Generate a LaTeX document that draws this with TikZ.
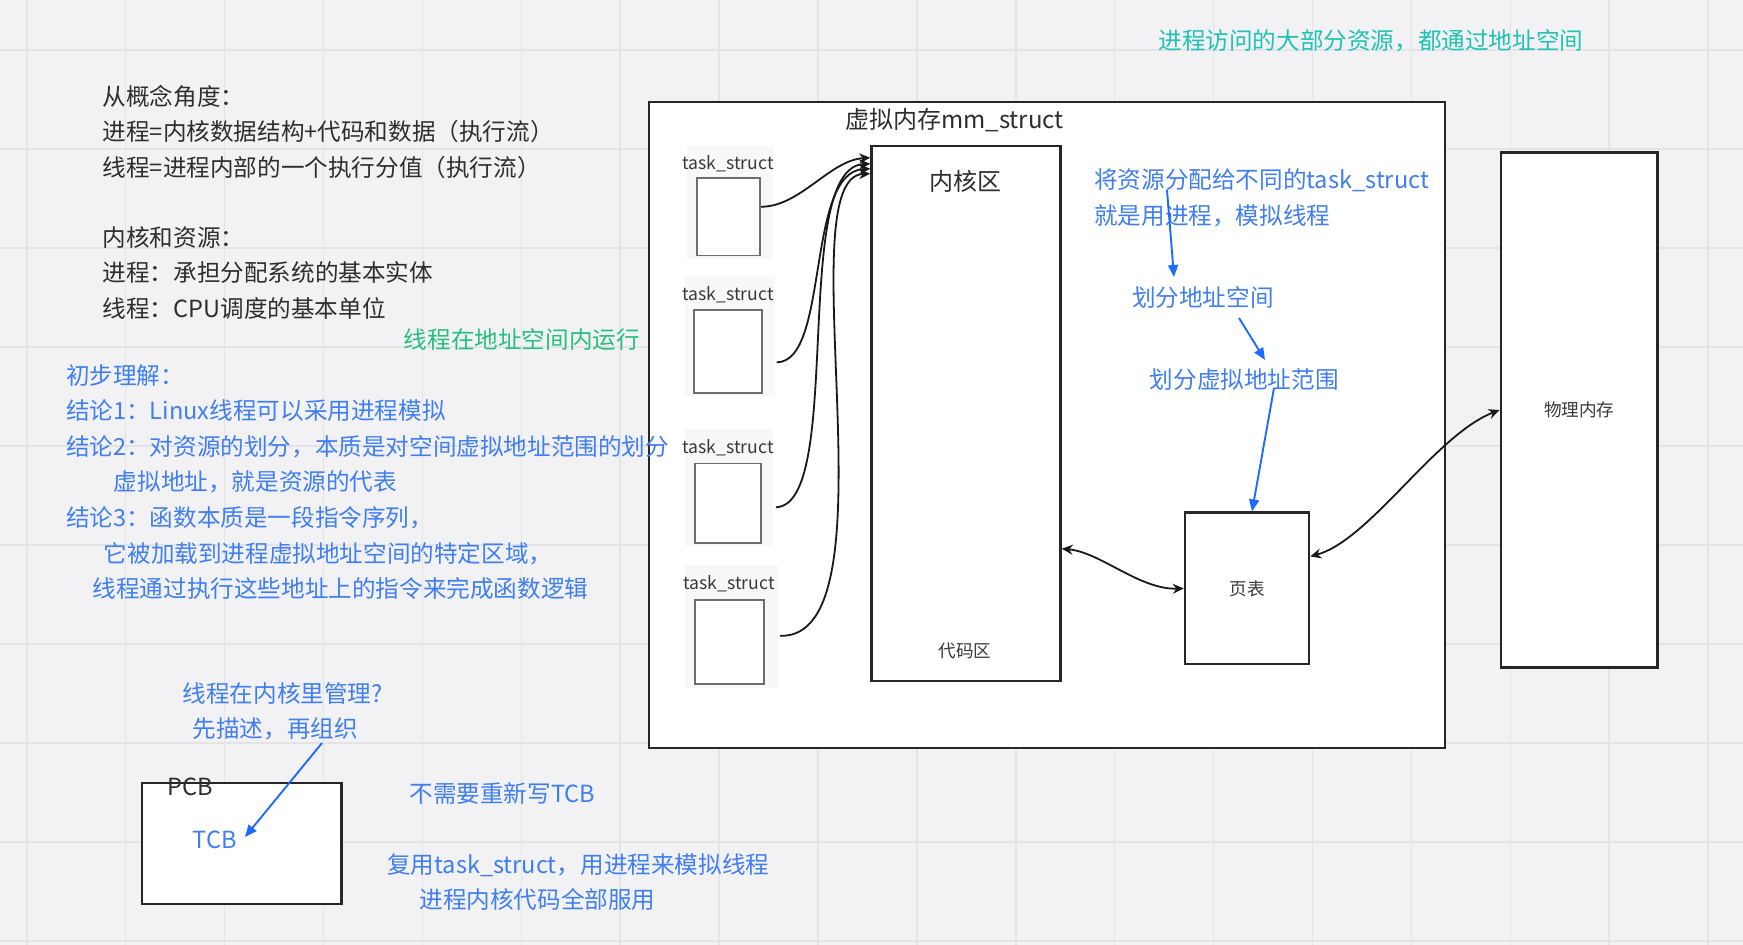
\documentclass[tikz,border=0pt]{standalone}
\usepackage{fontspec}
\setmainfont{Noto Sans CJK SC}
\usetikzlibrary{arrows.meta,calc}
\definecolor{bg}{HTML}{F2F2F4}
\definecolor{gridc}{HTML}{E4E4E7}
\definecolor{txtblack}{HTML}{2E2E2E}
\definecolor{txtblue}{HTML}{3F7EF4}
\definecolor{arrblue}{HTML}{1D6BFF}
\definecolor{txtgreen}{HTML}{24C07E}
\definecolor{txtteal}{HTML}{1FC3B3}
\definecolor{boxline}{HTML}{262626}
\definecolor{taskline}{HTML}{6E6E6E}
\definecolor{labgrey}{HTML}{3A3A3A}
\definecolor{panelc}{HTML}{F8F8F8}
\begin{document}
\begin{tikzpicture}[x=0.5pt,y=-0.5pt,
  txt/.style={font=\fontsize{11.8}{14}\selectfont, inner sep=0pt, anchor=west, text height=0.98em, text depth=0.02em},
  blk/.style={txt, text=txtblack},
  blu/.style={txt, text=txtblue},
  grn/.style={txt, text=txtgreen},
  teal/.style={txt, text=txtteal},
  small/.style={font=\fontsize{8.8}{10}\selectfont, text=labgrey, inner sep=0pt, text height=0.95em, text depth=0.05em},
  bigbox/.style={draw=boxline, line width=1.25pt, fill=white, inner sep=0pt},
  taskbox/.style={draw=taskline, line width=0.9pt, fill=white, inner sep=0pt},
  conn/.style={draw=black!90, line width=0.9pt, -{Stealth[length=5.5pt,width=5pt]}},
  conntwo/.style={draw=black!90, line width=0.9pt, {Stealth[length=5.5pt,width=5pt]}-{Stealth[length=5.5pt,width=5pt]}},
  bluearr/.style={draw=arrblue, line width=0.95pt, -{Triangle[length=6pt,width=5pt]}}
]
\fill[bg] (0,0) rectangle (1743,945);
\useasboundingbox (0,0) rectangle (1743,945);
\foreach \i in {0,...,17} \draw[gridc, line width=0.75pt] ({26.8+98.9*\i},0) -- ({26.8+98.9*\i},945);
\foreach \j in {0,...,9} \draw[gridc, line width=0.75pt] (0,{50+99*\j}) -- (1743,{50+99*\j});

% outer box and big boxes
\node[bigbox, minimum width=398pt, minimum height=323pt] (outer) at (1047,425) {};
\fill[panelc] (686.7,145.6) rectangle (772.7,258.6);
\fill[panelc] (685,275.8) rectangle (775,396.5);
\fill[panelc] (685,429) rectangle (773,546);
\fill[panelc] (685,565) rectangle (778,688);
\node[bigbox, minimum width=94.5pt, minimum height=267.5pt] (kernel) at (966,413.5) {};
\node[bigbox, minimum width=62pt, minimum height=75.7pt, font=\fontsize{8.8}{10}\selectfont, text=labgrey] (pt) at (1247,588.4) {页表};
\node[bigbox, minimum width=78.4pt, minimum height=257.3pt, font=\fontsize{8.8}{10}\selectfont, text=labgrey] (phys) at (1579.2,410) {物理内存};
\node[bigbox, minimum width=99.75pt, minimum height=60.5pt] (pcb) at (241.75,843.5) {};

% task_struct boxes
\node[taskbox, minimum width=31.65pt, minimum height=38.75pt] (t1) at (728.35,216.75) {};
\node[taskbox, minimum width=33.85pt, minimum height=41.35pt] (t2) at (727.85,351.35) {};
\node[taskbox, minimum width=33pt, minimum height=39.65pt] (t3) at (728,503.25) {};
\node[taskbox, minimum width=34.5pt, minimum height=42.2pt] (t4) at (729.5,641.8) {};
\node[small] (l1) at (728,161) {task\_struct};
\node[small] (l2) at (728,292) {task\_struct};
\node[small] (l3) at (728,445) {task\_struct};
\node[small] (l4) at (729,580) {task\_struct};

\node[font=\fontsize{12}{14}\selectfont, text=txtblack, inner sep=0pt, text height=0.98em, text depth=0.02em] (kq) at (965,181) {内核区};
\node[small] (dm) at (965,648) {代码区};
\node[txt, text=txtblack, font=\fontsize{12}{14}\selectfont] (mmt) at (844.8,119) {虚拟内存mm\_struct};

% connectors task_struct -> kernel
\draw[conn] ($(t1.east)+(0,-10)$) .. controls (800,207) and (830,160) .. ($(kernel.north west)+(0,13)$);
\draw[conn] ($(t2.east)+(14,11)$) .. controls (830,362) and (805,172) .. ($(kernel.north west)+(0,24)$);
\draw[conn] ($(t3.east)+(14,4)$) .. controls (845,505) and (790,168) .. ($(kernel.north west)+(0,19)$);
\draw[conn] ($(t4.east)+(15,-6)$) .. controls (900,640) and (785,176) .. ($(kernel.north west)+(0,29)$);

\draw[conntwo] ($(kernel.north east)+(0,404)$) .. controls (1100,552) and (1140,590) .. (pt.west);
\draw[conntwo] ($(pt.north east)+(0,45)$) .. controls (1370,540) and (1435,435) .. (phys.west);

% left texts
\node[blk] (c1) at (102.3,95.6) {从概念角度：};
\node[blk] (c2) at (102.3,131.2) {进程=内核数据结构+代码和数据（执行流）};
\node[blk] (c3) at (102.3,166.7) {线程=进程内部的一个执行分值（执行流）};
\node[blk] (c4) at (102.3,236.8) {内核和资源：};
\node[blk] (c5) at (102.3,272.3) {进程：承担分配系统的基本实体};
\node[blk] (c6) at (102.3,307.9) {线程：CPU调度的基本单位};
\node[grn] (g1) at (403.5,339) {线程在地址空间内运行};
\node[blu] (u1) at (65.6,374.6) {初步理解：};
\node[blu] (u2) at (65.6,410.2) {结论1：Linux线程可以采用进程模拟};
\node[blu] (u3) at (65.6,445.8) {结论2：对资源的划分，本质是对空间虚拟地址范围的划分};
\node[blu] (u4) at (113.4,481.3) {虚拟地址，就是资源的代表};
\node[blu] (u5) at (65.6,516.9) {结论3：函数本质是一段指令序列，};
\node[blu] (u6) at (103.4,552.5) {它被加载到进程虚拟地址空间的特定区域，};
\node[blu] (u7) at (92.3,588) {线程通过执行这些地址上的指令来完成函数逻辑};
\node[blu] (k1) at (182.3,692.5) {线程在内核里管理?};
\node[blu] (k2) at (192.3,728) {先描述，再组织};
\node[blk] (pcbl) at (166.7,786) {PCB};
\node[blu] (tcb) at (192.3,839) {TCB};
\node[blu] (n1) at (409,792.6) {不需要重新写TCB};
\node[blu] (n2) at (386.8,863.7) {复用task\_struct，用进程来模拟线程};
\node[blu] (n3) at (419,899.3) {进程内核代码全部服用};

% right texts
\node[teal] (top) at (1158,40) {进程访问的大部分资源，都通过地址空间};
\node[blu] (r1) at (1093.8,179) {将资源分配给不同的task\_struct};
\node[blu] (r2) at (1093.8,214.5) {就是用进程，模拟线程};
\node[blu] (r3) at (1131.6,296.8) {划分地址空间};
\node[blu] (r4) at (1149.4,379) {划分虚拟地址范围};

% blue arrows
\coordinate (b1s) at (1167,190);
\coordinate (b1e) at (1174,277);
\coordinate (b2s) at (1239,318);
\coordinate (b2e) at (1265,360);
\coordinate (b3s) at (1274,388);
\coordinate (pcs) at (322,743);
\coordinate (pce) at (245,837);
\draw[bluearr] (b1s) -- (b1e);
\draw[bluearr] (b2s) -- (b2e);
\draw[bluearr] (b3s) -- ($(pt.north)+(5,0)$);
\draw[bluearr] (pcs) -- (pce);
\end{tikzpicture}
\end{document}
